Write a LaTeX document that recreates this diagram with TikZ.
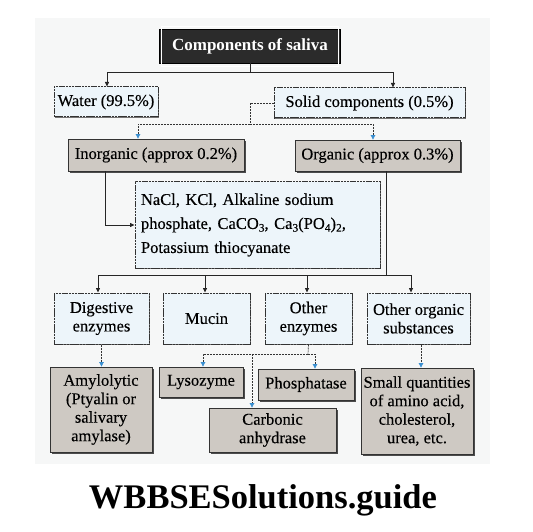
\documentclass[tikz,border=0pt]{standalone}
\usepackage{fontspec}
\setmainfont{Liberation Serif}
\newfontfamily\boxfont{Liberation Serif}[FakeBold=0.3]
\usetikzlibrary{arrows.meta,shadows}
\definecolor{panel}{HTML}{F6F7F7}
\definecolor{lightfill}{HTML}{EDF5FA}
\definecolor{grayfill}{HTML}{CEC9C3}
\definecolor{titlefill}{HTML}{2B2B2B}
\definecolor{tipblue}{HTML}{3A8FD0}
\definecolor{linegray}{HTML}{333333}
\newcommand\lowsub[1]{\raisebox{-0.35ex}{\fontsize{11.5}{11.5}\selectfont #1}}
\tikzset{
  every node/.style={font=\boxfont\fontsize{16.5}{18.5}\selectfont, inner sep=0pt, align=center},
  lightbox/.style={draw=linegray, fill=lightfill, line width=1pt, dash pattern=on 2.5pt off 0.7pt,
    drop shadow={shadow xshift=1pt, shadow yshift=-1pt, fill=black!55, opacity=1}},
  graybox/.style={draw=linegray, fill=grayfill, line width=0.8pt,
    drop shadow={shadow xshift=1.8pt, shadow yshift=-1.8pt, fill=black!70, opacity=1}},
  conn/.style={draw=black!85, line width=0.8pt},
  arr/.style={conn, -{Triangle[length=4.5pt,width=4pt]}},
  dline/.style={draw=linegray, line width=0.7pt, dash pattern=on 2pt off 1pt},
  barr/.style={dline, -{Triangle[length=4.5pt,width=4.5pt,color=tipblue]}},
}
\begin{document}
\begin{tikzpicture}[x=1pt,y=-1pt]
\useasboundingbox (0,0) rectangle (533,532);
\fill[panel] (35,18) rectangle (490,464);

% title
\node[fill=titlefill, draw=black, line width=0.8pt, minimum width=181pt, minimum height=34pt,
  text=white, font=\rmfamily\bfseries\fontsize{17}{19}\selectfont] (title) at (250,46) {Components of saliva};
\draw[white, line width=0.7pt] ([shift={(2.5,-2.5)}]title.north west) rectangle ([shift={(-2.5,2.5)}]title.south east);

% level 1
\node[lightbox, minimum width=104pt, minimum height=30pt] (water) at (106,102) {Water (99.5\%)};
\node[lightbox, minimum width=191pt, minimum height=30pt] (solid) at (369.5,103) {Solid components (0.5\%)};

% level 2
\node[graybox, minimum width=176pt, minimum height=32pt] (inorg) at (156,155) {Inorganic (approx 0.2\%)};
\node[graybox, minimum width=165pt, minimum height=31pt] (org) at (377.5,155.5) {Organic (approx 0.3\%)};

% mineral box
\node[lightbox, minimum width=245pt, minimum height=86pt, text width=233pt, align=left,
  font=\boxfont\fontsize{16.5}{24}\selectfont] (mineral) at (257.5,225)
  {NaCl, KCl, Alkaline sodium\\phosphate, CaCO\lowsub{3}, Ca\lowsub{3}(PO\lowsub{4})\lowsub{2},\\Potassium thiocyanate};

% level 3
\node[lightbox, minimum width=95pt, minimum height=51pt] (dig) at (101.5,318.5) {Digestive\\enzymes};
\node[lightbox, minimum width=87pt, minimum height=51pt] (mucin) at (206.5,318.5) {Mucin};
\node[lightbox, minimum width=87pt, minimum height=51pt] (othenz) at (308.5,318.5) {Other\\enzymes};
\node[lightbox, minimum width=103pt, minimum height=51pt] (othorg) at (418.5,318.5) {Other organic\\substances};

% level 4
\node[graybox, minimum width=102pt, minimum height=85pt] (amyl) at (101,409.5) {Amylolytic\\(Ptyalin or\\salivary\\amylase)};
\node[graybox, minimum width=84pt, minimum height=30pt] (lyso) at (201,382) {Lysozyme};
\node[graybox, minimum width=96pt, minimum height=31pt] (phos) at (306,384.5) {Phosphatase};
\node[graybox, minimum width=127pt, minimum height=44pt] (carb) at (272.5,430) {Carbonic\\anhydrase};
\node[graybox, minimum width=112pt, minimum height=86pt] (small) at (417,411) {Small quantities\\of amino acid,\\cholesterol,\\urea, etc.};

% connectors: title
\coordinate (j1) at (250,72);
\draw[conn] (title.south) -- (j1);
\draw[arr] (j1) -| ([xshift=1pt]water.north);
\draw[arr] (j1) -| ([xshift=23.5pt]solid.north);

% solid -> inorganic / organic
\coordinate (j2) at (250,124);
\draw[dline] (solid.west) -| (j2);
\draw[barr] (j2) -| ([xshift=-18pt]inorg.north);
\draw[barr] (j2) -| ([xshift=-4.5pt]org.north);

% inorganic -> mineral
\draw[arr] ([xshift=-51pt]inorg.south) |- (mineral.west);

% organic -> level 3
\coordinate (j3) at (386,275);
\draw[conn] ([xshift=8.5pt]org.south) -- (j3);
\draw[arr] (j3) -| ([xshift=-3.5pt]dig.north);
\draw[arr] (j3) -| ([xshift=-1.5pt]mucin.north);
\draw[arr] (j3) -| ([xshift=-1.5pt]othenz.north);
\draw[arr] (j3) -| ([xshift=-7.5pt]othorg.north);

% level 3 -> level 4
\draw[barr] (dig.south) -- ([xshift=0.5pt]amyl.north);
\coordinate (j4) at (308,354);
\draw[dline] (othenz.south) -- (j4);
\draw[barr] (j4) -| ([xshift=2pt]lyso.north);
\draw[barr] (j4) -| ([xshift=9pt]phos.north);
\coordinate (j5) at (252,354);
\draw[barr] (j5) -- ([xshift=-20.5pt]carb.north);
\draw[barr] ([xshift=2.5pt]othorg.south) -- ([xshift=4pt]small.north);

% watermark
\node[font=\rmfamily\bfseries\fontsize{34.5}{36}\selectfont] (wm) at (263,500) {WBBSESolutions.guide};
\end{tikzpicture}
\end{document}
